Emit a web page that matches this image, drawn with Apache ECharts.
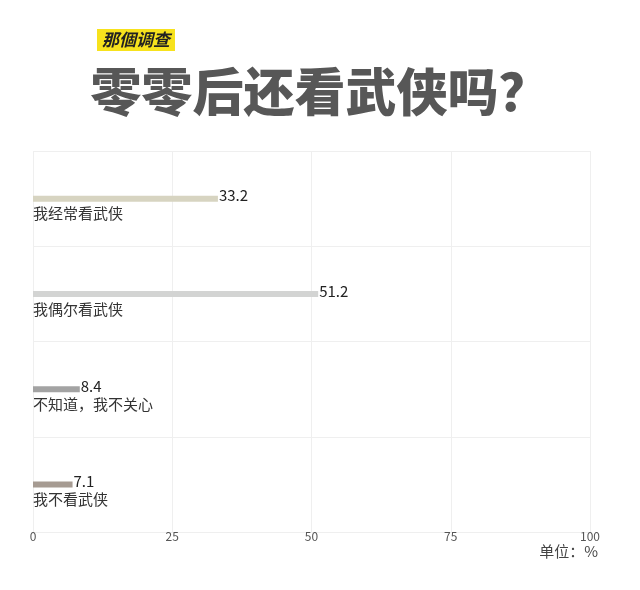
<!DOCTYPE html>
<html>
<head>
<meta charset="utf-8">
<script src="https://cdn.jsdelivr.net/npm/echarts@6/dist/echarts.min.js"></script>
<style>
html,body{margin:0;padding:0;background:#fff;}
#chart{width:640px;height:590px;}
</style>
</head>
<body>
<div id="chart"></div>
<script>
var categories = ['我经常看武侠', '我偶尔看武侠', '不知道，我不关心', '我不看武侠'];
var values = [33.2, 51.2, 8.4, 7.1];
var barColors = ['#d7d4c1', '#d3d4d3', '#a3a3a3', '#a69b92'];
var titleText = '零零后还看武侠吗？';
var tagText = '那個调查';
var unitText = '单位：%';

var font = '"Noto Sans CJK SC", "Noto Sans", sans-serif';
var chart = echarts.init(document.getElementById('chart'), null, {renderer: 'canvas'});
chart.setOption({
  backgroundColor: '#ffffff',
  animation: false,
  title: [
    {
      text: tagText,
      left: 97, top: 29,
      backgroundColor: '#f7e21d',
      padding: [2, 5, 2, 5],
      textStyle: {fontFamily: font, fontSize: 17, fontWeight: 'bold', fontStyle: 'italic', color: '#222', lineHeight: 18}
    },
    {
      text: titleText,
      left: 'center', top: 62,
      padding: 0,
      textStyle: {fontFamily: font, fontSize: 51, fontWeight: 900, color: '#575757', lineHeight: 60}
    },
    {
      text: unitText,
      right: 42, top: 544,
      padding: 0,
      textStyle: {fontFamily: font, fontSize: 15, fontWeight: 'normal', color: '#444'}
    }
  ],
  grid: {left: 33, right: 50, top: 151, bottom: 58, containLabel: false},
  xAxis: {
    type: 'value', min: 0, max: 100, interval: 25,
    axisLine: {show: false}, axisTick: {show: false},
    splitLine: {show: true, lineStyle: {color: '#efefef', width: 1}},
    axisLabel: {color: '#555', fontSize: 12, fontFamily: font, margin: -2}
  },
  yAxis: {
    type: 'category', data: categories, inverse: true,
    axisLine: {show: false}, axisTick: {show: false},
    splitLine: {show: true, lineStyle: {color: '#efefef', width: 1}},
    axisLabel: {
      inside: true, margin: 0,
      verticalAlign: 'top', align: 'left',
      padding: [7, 0, 0, 0],
      fontSize: 15, color: '#333', fontFamily: font, lineHeight: 16
    }
  },
  series: [{
    type: 'bar',
    data: values.map(function (v, i) { return {value: v, itemStyle: {color: barColors[i]}}; }),
    barWidth: 6,
    label: {
      show: true, position: 'right', distance: 1, offset: [0, -3],
      fontSize: 15, color: '#222', fontFamily: font
    }
  }]
});
</script>
</body>
</html>
